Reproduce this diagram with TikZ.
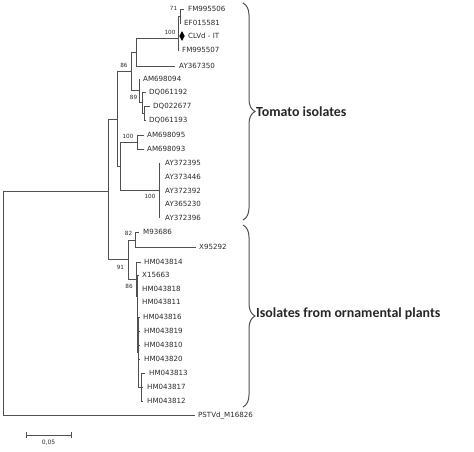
\documentclass[tikz,border=0pt]{standalone}
\usepackage{fontspec}
\setmainfont{DejaVu Sans}
\newfontfamily\groupfont{Carlito}
\usepackage{tikz}
\usetikzlibrary{positioning,shapes.geometric,decorations.pathreplacing}
\definecolor{twig}{HTML}{505050}
\definecolor{ink}{HTML}{2A2A2A}

\begin{document}
\begin{tikzpicture}[x=1pt,y=-1pt,font=\fontsize{7.1}{8}\selectfont,
  leaf/.style={anchor=west,inner sep=0pt,text=ink,text height=5.1pt,text depth=0pt},
  boot/.style={inner sep=0pt,text=ink,font=\fontsize{5.7}{6}\selectfont},
  branchline/.style={draw=twig,line width=1pt},
  grp/.style={anchor=west,inner sep=0pt,text=black!85,font=\groupfont\bfseries\fontsize{13.9}{15}\selectfont}]
\useasboundingbox (0,0) rectangle (474,451);
% internal nodes
\foreach \nm/\x/\y in {root/3/303,E/108/191.5,C/117/119,B/131/71,A/136/52,n100/178/38,n71/180/16,
  n89/139/90,n2/142/102.5,n3/144/113,D/120/166,n100a/137/142,ayc/159/190.5,
  F/128/259.5,G/135/240,H/136/279,I/137/296,J/138.5/352,K/141/387}
  \coordinate (\nm) at (\x,\y);
% leaves: name / tip x / label x / y / text
\foreach \nm/\tx/\lx/\y/\lab in {fm995506/184/188/9/FM995506,ef015581/181/184/23/EF015581,
  clvd/179/188/36/{CLVd - IT},fm995507/179/182/50/FM995507,ay367350/175/179/66/AY367350,
  am698094/140/143/79/AM698094,dq061192/146/149/92/DQ061192,dq022677/150/153/106/DQ022677,
  dq061193/146/149/120/DQ061193,am698095/144/147/135/AM698095,am698093/144/147/149/AM698093,
  ay372395/159/165/163/AY372395,ay373446/159/165/177/AY373446,ay372392/159/165/190.5/AY372392,
  ay365230/159/165/204/AY365230,ay372396/159/165/218/AY372396,
  m93686/139/143/232/M93686,x95292/196/199/247/X95292,hm043814/141/144/262/HM043814,
  x15663/139/142/275/X15663,hm043818/138/142/289/HM043818,hm043811/138/142/302/HM043811,
  hm043816/140/143/317/HM043816,hm043819/140/144/331/HM043819,hm043810/140/144/345/HM043810,
  hm043820/140/144/359/HM043820,hm043813/145/149/373/HM043813,hm043817/143/147/387/HM043817,
  hm043812/143/147/401/HM043812,pstvd/195/198/415/PSTVd\_M16826}{
  \coordinate (\nm) at (\tx,\y);
  \node[leaf] (l-\nm) at (\lx,\y) {\lab};
}
% branches
\foreach \p/\c in {root/E,root/pstvd,E/C,E/F,C/B,C/D,B/A,B/n89,A/n100,A/ay367350,
  n100/n71,n100/clvd,n100/fm995507,n71/fm995506,n71/ef015581,
  n89/am698094,n89/n2,n2/dq061192,n2/n3,n3/dq022677,n3/dq061193,
  D/n100a,D/ayc,n100a/am698095,n100a/am698093,
  ayc/ay372395,ayc/ay373446,ayc/ay372392,ayc/ay365230,ayc/ay372396,
  F/G,F/H,G/m93686,G/x95292,H/hm043814,H/I,I/x15663,I/hm043818,I/hm043811,I/J,
  J/hm043816,J/hm043819,J/hm043810,J/hm043820,J/K,K/hm043813,K/hm043817,K/hm043812}
  \draw[branchline] (\p) |- (\c);
\node[diamond,fill=black,inner sep=0pt,minimum width=5.5pt,minimum height=10pt] (clvdmark) at (182,36) {};
% bootstrap values
\node[boot] (b71) at (173.5,8.5) {71};
\node[boot] (b100clvd) at (170,32) {100};
\node[boot] (b86top) at (124,65.5) {86};
\node[boot] (b89) at (133.5,97) {89};
\node[boot] (b100am) at (128,136) {100};
\node[boot] (b100ay) at (150,196) {100};
\node[boot] (b82) at (128.5,233.5) {82};
\node[boot] (b91) at (120.5,267) {91};
\node[boot] (b86low) at (129,286) {86};
% groups
\draw[twig,line width=1pt,decorate,decoration={brace,amplitude=12pt}] (243,3) -- (243,220);
\node[grp] (tomato) at (256,112) {Tomato isolates};
\draw[twig,line width=1pt,decorate,decoration={brace,amplitude=12pt}] (243,225) -- (243,407);
\node[grp] (ornamental) at (256,314) {Isolates from ornamental plants};
% scale bar
\coordinate (sb0) at (26,435);
\coordinate (sb1) at (71,435);
\draw[branchline,line width=0.8pt] (sb0) -- (sb1);
\draw[branchline,line width=0.8pt] ([yshift=3pt]sb0) -- ([yshift=-3pt]sb0);
\draw[branchline,line width=0.8pt] ([yshift=3pt]sb1) -- ([yshift=-3pt]sb1);
\node[boot,font=\fontsize{6}{7}\selectfont] (sblab) at (48.5,443) {0,05};
\end{tikzpicture}
\end{document}
